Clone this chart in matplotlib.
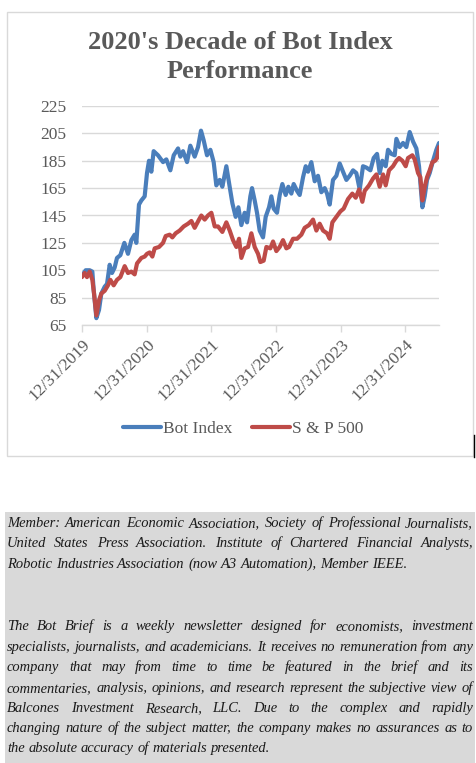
import matplotlib
matplotlib.use('Agg')
import matplotlib.pyplot as plt
from matplotlib.patches import Rectangle
from matplotlib.lines import Line2D
from matplotlib.font_manager import FontProperties

# ---------------- data ----------------
bot_years = [2020.000, 2020.057, 2020.119, 2020.160, 2020.180, 2020.222, 2020.263, 2020.299,
             2020.351, 2020.387, 2020.428, 2020.464, 2020.505, 2020.541, 2020.593, 2020.655,
             2020.711, 2020.763, 2020.814, 2020.840, 2020.881, 2020.918, 2020.969, 2021.005,
             2021.036, 2021.072, 2021.108, 2021.175, 2021.253, 2021.304, 2021.366, 2021.418,
             2021.485, 2021.521, 2021.562, 2021.624, 2021.675, 2021.742, 2021.794, 2021.840,
             2021.881, 2021.933, 2021.985, 2022.036, 2022.077, 2022.129, 2022.170, 2022.232,
             2022.273, 2022.325, 2022.376, 2022.418, 2022.464, 2022.515, 2022.552, 2022.603,
             2022.629, 2022.670, 2022.706, 2022.747, 2022.799, 2022.840, 2022.892, 2022.928,
             2022.964, 2023.015, 2023.057, 2023.098, 2023.149, 2023.191, 2023.237, 2023.273,
             2023.325, 2023.366, 2023.418, 2023.459, 2023.495, 2023.546, 2023.598, 2023.649,
             2023.701, 2023.753, 2023.789, 2023.830, 2023.881, 2023.933, 2023.985, 2024.036,
             2024.088, 2024.139, 2024.191, 2024.242, 2024.294, 2024.345, 2024.397, 2024.459,
             2024.510, 2024.562, 2024.603, 2024.644, 2024.696, 2024.732, 2024.784, 2024.835,
             2024.861, 2024.912, 2024.964, 2025.015, 2025.067, 2025.119, 2025.170, 2025.211,
             2025.263, 2025.299, 2025.335, 2025.376, 2025.428, 2025.479, 2025.521]
bot_values = [101, 105, 105, 104, 91, 70, 76, 88,
              93, 95, 109, 103, 107, 114, 116, 125,
              117, 127, 131, 125, 153, 156, 159, 176,
              185, 177, 192, 189, 184, 186, 178, 189,
              194, 188, 192, 184, 196, 188, 195, 207,
              200, 189, 193, 184, 167, 171, 166, 181,
              169, 154, 144, 151, 138, 147, 140, 159,
              165, 156, 147, 134, 129, 144, 151, 159,
              150, 147, 160, 168, 160, 166, 161, 168,
              163, 160, 173, 181, 177, 184, 170, 174,
              162, 165, 161, 153, 171, 174, 183, 177,
              171, 174, 178, 176, 164, 181, 180, 178,
              187, 190, 176, 185, 181, 193, 190, 189,
              201, 195, 198, 195, 206, 199, 194, 181,
              151, 159, 171, 176, 185, 193, 198]

sp_years = [2020.000, 2020.041, 2020.077, 2020.119, 2020.160, 2020.186, 2020.222, 2020.263,
            2020.299, 2020.351, 2020.402, 2020.438, 2020.490, 2020.541, 2020.593, 2020.660,
            2020.711, 2020.763, 2020.814, 2020.851, 2020.918, 2020.969, 2021.005, 2021.046,
            2021.088, 2021.124, 2021.191, 2021.253, 2021.294, 2021.356, 2021.397, 2021.448,
            2021.510, 2021.572, 2021.639, 2021.691, 2021.742, 2021.809, 2021.845, 2021.897,
            2021.948, 2022.000, 2022.052, 2022.103, 2022.170, 2022.232, 2022.284, 2022.335,
            2022.387, 2022.428, 2022.464, 2022.515, 2022.567, 2022.619, 2022.670, 2022.722,
            2022.758, 2022.809, 2022.851, 2022.912, 2022.954, 2023.005, 2023.057, 2023.108,
            2023.160, 2023.201, 2023.263, 2023.325, 2023.392, 2023.443, 2023.510, 2023.572,
            2023.624, 2023.675, 2023.727, 2023.789, 2023.830, 2023.871, 2023.933, 2023.995,
            2024.046, 2024.113, 2024.180, 2024.232, 2024.284, 2024.335, 2024.371, 2024.438,
            2024.500, 2024.552, 2024.603, 2024.655, 2024.696, 2024.747, 2024.809, 2024.861,
            2024.902, 2024.954, 2025.005, 2025.041, 2025.108, 2025.144, 2025.196, 2025.232,
            2025.263, 2025.299, 2025.335, 2025.376, 2025.418, 2025.459, 2025.490, 2025.521]
sp_values = [100, 103, 100, 104, 98, 88, 72, 83,
             88, 90, 94, 98, 94, 98, 100, 108,
             103, 104, 102, 110, 114, 115, 117, 118,
             115, 121, 122, 125, 130, 131, 129, 132,
             134, 137, 139, 141, 136, 142, 145, 142,
             145, 147, 137, 137, 133, 140, 134, 127,
             122, 128, 114, 121, 122, 132, 122, 117,
             111, 112, 122, 121, 126, 119, 122, 127,
             121, 122, 128, 128, 131, 136, 138, 142,
             134, 139, 134, 132, 128, 140, 144, 148,
             150, 157, 161, 158, 164, 155, 163, 167,
             172, 175, 166, 175, 167, 178, 181, 185,
             187, 185, 181, 187, 189, 186, 176, 173,
             156, 166, 173, 178, 184, 185, 187, 195]

tick_years = [2020, 2021, 2022, 2023, 2024, 2025]
tick_labels = ['12/31/2019', '12/31/2020', '12/31/2021', '12/31/2022', '12/31/2023', '12/31/2024']
y_ticks = [65, 85, 105, 125, 145, 165, 185, 205, 225]
series_names = ['Bot Index', 'S & P 500']
title_lines = ["2020's Decade of Bot Index", "Performance"]

para1 = ["Member: American Economic Association, Society of Professional Journalists,",
         "United States Press Association. Institute of Chartered Financial Analysts,",
         "Robotic Industries Association (now A3 Automation), Member IEEE."]
para2 = ["The Bot Brief is a weekly newsletter designed for economists, investment",
         "specialists, journalists, and academicians. It receives no remuneration from any",
         "company that may from time to time be featured in the brief and its",
         "commentaries, analysis, opinions, and research represent the subjective view of",
         "Balcones Investment Research, LLC. Due to the complex and rapidly",
         "changing nature of the subject matter, the company makes no assurances as to",
         "the absolute accuracy of materials presented."]

# ---------------- layout ----------------
W, H = 477, 763
fig = plt.figure(figsize=(W / 100, H / 100), dpi=100)
fig.patch.set_facecolor('white')

def fx(px):
    return px / W

def fy(py):
    return 1 - py / H

SERIF = 'Liberation Serif'
GREY = '#595959'
BLUE = '#4A7EBB'
RED = '#BE4B48'

# chart frame
fig.patches.append(Rectangle((fx(7), fy(456)), fx(473) - fx(7), fy(12) - fy(456),
                             transform=fig.transFigure, facecolor='white',
                             edgecolor='#d9d9d9', lw=1.0, zorder=-5))
# cursor mark
fig.lines.append(Line2D([fx(474), fx(474)], [fy(435), fy(457)], transform=fig.transFigure,
                        color='black', lw=1.0, zorder=-4))
# grey disclaimer box
fig.patches.append(Rectangle((fx(5), 0), fx(475) - fx(5), fy(512),
                             transform=fig.transFigure, facecolor='#d9d9d9',
                             edgecolor='none', zorder=-5))

ax = fig.add_axes([fx(82), fy(325), fx(439) - fx(82), fy(106) - fy(325)])
ax.set_zorder(2)
ax.set_facecolor('none')
ax.plot(bot_years, bot_values, color=BLUE, lw=3.0, solid_joinstyle='round',
        solid_capstyle='round', label=series_names[0], zorder=3)
ax.plot(sp_years, sp_values, color=RED, lw=3.0, solid_joinstyle='round',
        solid_capstyle='round', label=series_names[1], zorder=4)
ax.set_xlim(2020.0, 2025.52)
ax.set_ylim(65, 225)
ax.set_yticks(y_ticks)
ax.set_xticks(tick_years)
ax.set_xticklabels(tick_labels, rotation=45, ha='right', rotation_mode='anchor')
ax.grid(axis='y', color='#d9d9d9', lw=1.0)
ax.set_axisbelow(True)
for s in ['top', 'right', 'left']:
    ax.spines[s].set_visible(False)
ax.spines['bottom'].set_color('#d9d9d9')
ax.spines['bottom'].set_linewidth(1.0)
ax.tick_params(axis='y', length=0, pad=11, labelsize=12.5, labelcolor=GREY)
ax.tick_params(axis='x', length=5, width=1.0, color='#d9d9d9', pad=3,
               labelsize=12.5, labelcolor=GREY)
for lab in ax.get_xticklabels() + ax.get_yticklabels():
    lab.set_family(SERIF)

fig.text(fx(240), fy(49), title_lines[0], ha='center', va='baseline', family=SERIF,
         weight='bold', fontsize=19, color=GREY)
fig.text(fx(240), fy(78), title_lines[1], ha='center', va='baseline', family=SERIF,
         weight='bold', fontsize=19, color=GREY)

leg = fig.legend(loc='center', bbox_to_anchor=(fx(243), fy(429)), ncol=2, frameon=False,
                 prop=FontProperties(family=SERIF, size=12.5), handlelength=2.2,
                 handletextpad=0.1, columnspacing=1.15)
for t in leg.get_texts():
    t.set_color(GREY)

# ---------------- justified disclaimer text ----------------
renderer = fig.canvas.get_renderer()
X0, X1 = 7, 473

def text_w(s, prop):
    w, h, d = renderer.get_text_width_height_descent(s, prop, ismath=False)
    return w

base_prop = FontProperties(family=SERIF, style='italic', size=10)
space10 = text_w('a a', base_prop) - text_w('aa', base_prop)
all_lines = para1 + para2
nat = max(sum(text_w(w, base_prop) for w in ln.split()) + space10 * (len(ln.split()) - 1)
          for ln in all_lines)
fs = 10 * (X1 - X0) / nat
prop = FontProperties(family=SERIF, style='italic', size=fs)
space = text_w('a a', prop) - text_w('aa', prop)

def draw_para(lines, baselines):
    for i, (ln, by) in enumerate(zip(lines, baselines)):
        words = ln.split()
        widths = [text_w(w, prop) for w in words]
        last = (i == len(lines) - 1)
        gap = space if last else (X1 - X0 - sum(widths)) / (len(words) - 1)
        x = X0
        for w, wd in zip(words, widths):
            fig.text(fx(x), fy(by), w, fontproperties=prop, color='#1a1a1a',
                     ha='left', va='baseline')
            x += wd + gap

draw_para(para1, [527, 547, 568])
draw_para(para2, [630, 651, 671, 692, 712, 732, 752])

fig.savefig('out.png', dpi=100, facecolor='white')
